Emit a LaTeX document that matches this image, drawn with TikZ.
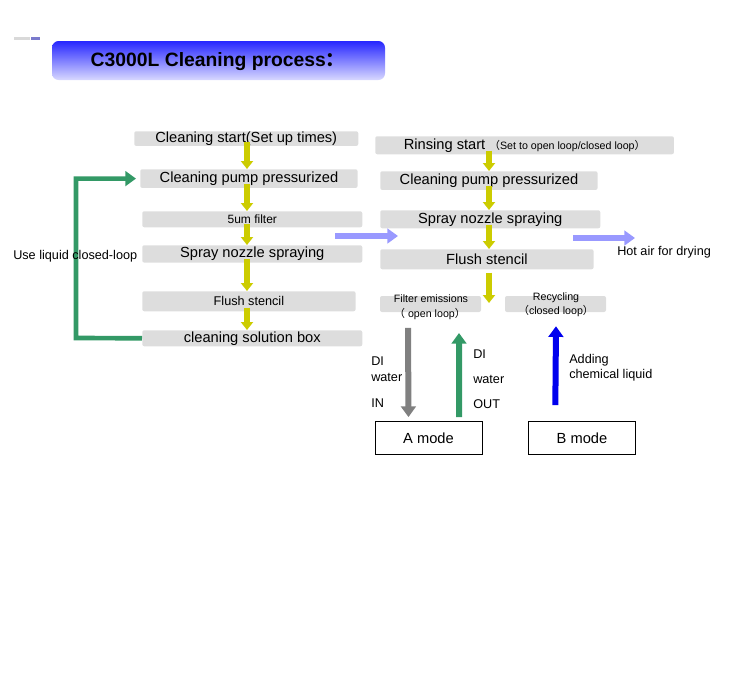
\documentclass[tikz,border=0pt]{standalone}
\usepackage{fontspec}
\setmainfont{Liberation Sans}
\newfontfamily\cjk{Noto Sans CJK SC}
\usetikzlibrary{arrows.meta, positioning, calc}
\definecolor{barcolor}{RGB}{221, 221, 221}
\definecolor{stepcolor}{RGB}{204, 204, 0}
\definecolor{loopcolor}{RGB}{51, 153, 102}
\definecolor{aircolor}{RGB}{153, 153, 255}
\definecolor{incolor}{RGB}{128, 128, 128}
\definecolor{addcolor}{RGB}{0, 0, 238}

\begin{document}
\begin{tikzpicture}[
    x=0.75pt, y=-0.75pt,
    bar/.style={rectangle, rounded corners=1.5pt, fill=barcolor, inner sep=0pt, anchor=north west, font=\fontsize{11}{12}\selectfont},
    stepflow/.style={-{Triangle[length=6pt, width=9pt]}, line width=4.5pt, draw=stepcolor},
    flow/.style={-{Triangle[length=8pt, width=11pt]}, line width=4.5pt},
    label/.style={font=\fontsize{9.5}{11}\selectfont, align=left, anchor=west, inner sep=0pt},
    mode/.style={rectangle, draw, thin, minimum width=80pt, minimum height=25pt, font=\fontsize{11}{12}\selectfont}
]
\useasboundingbox (0,0) rectangle (736,676);

% Title
\fill[black!15] (14,37) rectangle (30,40);
\fill[aircolor!80!black] (31,37) rectangle (40,40);
\shade[top color=blue!85, bottom color=blue!15, rounded corners=5pt] (52,41) rectangle (385,80);
\node[font=\fontsize{14.5}{16}\selectfont\bfseries] (title) at (218,62) {C3000L Cleaning process{\cjk ：}};

% Cleaning steps
\node[bar, minimum width=168pt, minimum height=11pt] (c1) at (134,131) {Cleaning start(Set up times)};
\node[bar, minimum width=163pt, minimum height=14pt] (c2) at (140,169) {Cleaning pump pressurized};
\node[bar, minimum width=165pt, minimum height=12pt, font=\fontsize{9}{10}\selectfont] (c3) at (142,211) {5um filter};
\node[bar, minimum width=165pt, minimum height=13pt] (c4) at (142,245) {Spray nozzle spraying};
\node[bar, minimum width=160pt, minimum height=15pt, font=\fontsize{9.5}{10}\selectfont] (c5) at (142,291) {Flush stencil};
\node[bar, minimum width=165pt, minimum height=12pt] (c6) at (142,330) {cleaning solution box};

% Rinsing steps
\node[bar, minimum width=224pt, minimum height=13.5pt] (r1) at (375,136) {Rinsing start {\fontsize{8}{9}\selectfont\cjk （}{\fontsize{8}{9}\selectfont Set to open loop/closed loop}{\fontsize{8}{9}\selectfont\cjk ）}};
\node[bar, minimum width=163pt, minimum height=14pt] (r2) at (380,171) {Cleaning pump pressurized};
\node[bar, minimum width=165pt, minimum height=13.5pt] (r3) at (380,210) {Spray nozzle spraying};
\node[bar, minimum width=160pt, minimum height=15pt] (r4) at (380,249) {Flush stencil};
\fill[barcolor, rounded corners=1.5pt] (380,296) rectangle (481,312);
\fill[barcolor, rounded corners=1.5pt] (505,296) rectangle (606,312);
\node[font=\fontsize{8}{9}\selectfont, inner sep=0pt] (open) at (431,299) {Filter emissions};
\node[font=\fontsize{8}{9}\selectfont, inner sep=0pt] (closed) at (556,298) {Recycling};
\node[font=\fontsize{8}{9}\selectfont, inner sep=0pt] (openl) at (430,314) {{\cjk （} open loop{\cjk ）}};
\node[font=\fontsize{8}{9}\selectfont, inner sep=0pt] (closedl) at (556,311) {{\cjk （}closed loop{\cjk ）}};

% Step arrows
\foreach \a/\b in {c1/c2, c2/c3, c3/c4, c4/c5, c5/c6}
  \draw[stepflow] (\a.south -| 247,0) ++(0,-4) -- (\b.north -| 247,0);
\foreach \a/\b in {r1/r2, r2/r3, r3/r4}
  \draw[stepflow] (\a.south -| 489,0) ++(0,-4) -- (\b.north -| 489,0);
\draw[stepflow] (r4.south -| 489,0) ++(0,3) -- (489,303);

% Closed loop
\coordinate (loopl) at (76,338);
\draw[flow, draw=loopcolor, line width=3.5pt] (c6.west) -- (loopl) |- ([xshift=-3pt]c2.west);
\node[label] (uselabel) at (13,256) {Use liquid closed-loop};

% Air arrows
\coordinate (airin) at (335,236);
\coordinate (airout) at (573,238);
\draw[flow, draw=aircolor] (airin) -- ++(63,0);
\draw[flow, draw=aircolor] (airout) -- ++(62,0);
\node[label] (hot) at (617,252) {Hot air for drying};

% Modes
\node[mode] (amode) at (428.5,438) {A mode};
\node[mode] (bmode) at (582,438) {B mode};
\draw[flow, draw=incolor] (openl.south -| 408,0) ++(0,8) -- ([xshift=-15pt,yshift=3pt]amode.north);
\draw[flow, draw=loopcolor] ([xshift=23pt,yshift=3pt]amode.north) -- (459,333);
\draw[flow, draw=addcolor] ([xshift=-20pt,yshift=12pt]bmode.north) -- ([yshift=-7pt]closedl.south -| 556,0);
\node[label] at (371,361) {DI};
\node[label] at (371,377) {water};
\node[label] at (371,403) {IN};
\node[label] at (473,354) {DI};
\node[label] at (473,379) {water};
\node[label] at (473,404) {OUT};
\node[label] at (569,368) {Adding\\chemical liquid};
\end{tikzpicture}
\end{document}
